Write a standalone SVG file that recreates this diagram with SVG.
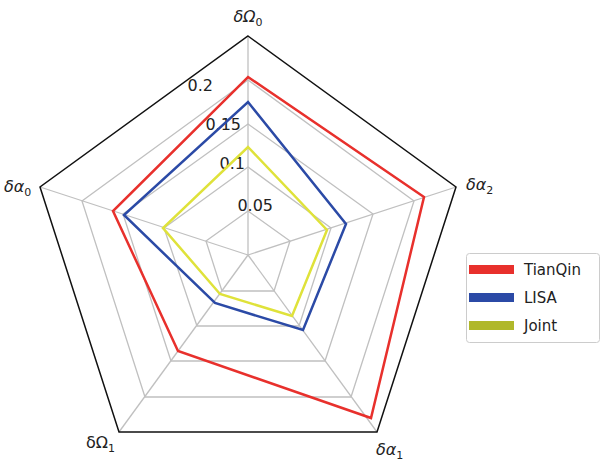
<svg xmlns="http://www.w3.org/2000/svg" width="602" height="461" viewBox="0 0 602 461">
<style>
.g{fill:none;stroke:#c0c0c0;stroke-width:1.3}
.ax{stroke:#c0c0c0;stroke-width:1.3}
.t{font-family:"DejaVu Sans",sans-serif;font-size:16px;fill:#222;font-style:italic}
.tk{font-family:"DejaVu Sans",sans-serif;font-size:16px;fill:#222}
.lg{font-family:"DejaVu Sans",sans-serif;font-size:15px;fill:#222}
.d{fill:none;stroke-width:2.5;stroke-linejoin:miter}
.s{font-style:normal;font-size:11px}
</style>
<rect width="602" height="461" fill="#fff"/>
<g id="grid">
<polygon class="g" points="248,211 290,241 274,291 222,291 206,241"/>
<polygon class="g" points="248,167 331,228 299,326 197,326 164,228"/>
<polygon class="g" points="248,124 373,214 325,361 171,361 123,214"/>
<polygon class="g" points="248,80 414,201 351,397 145,397 82,201"/>
<line class="ax" x1="248" y1="255" x2="248" y2="36"/>
<line class="ax" x1="248" y1="255" x2="456" y2="187"/>
<line class="ax" x1="248" y1="255" x2="377" y2="432"/>
<line class="ax" x1="248" y1="255" x2="119" y2="432"/>
<line class="ax" x1="248" y1="255" x2="40" y2="187"/>
<polygon fill="none" stroke="#111" stroke-width="1.5" points="248,36 456,187 377,432 119,432 40,187"/>
</g>
<g id="ticks" class="tk" text-anchor="end">
<text x="273" y="211">0.05</text>
<text x="245" y="169">0.1</text>
<text x="241" y="130">0.15</text>
<text x="213" y="91">0.2</text>
</g>
<g id="connectors">
<polygon id="joint" class="d" stroke="#dfe23a" points="248,147 327,230 292,316 220,294 163,228"/>
<polygon id="lisa" class="d" stroke="#2b4aa6" points="248,102 346,224 303,330 215,303 124,215"/>
<polygon id="tianqin" class="d" stroke="#e8302c" points="248,77 424,197 371,418 178,351 113,211"/>
</g>
<g id="labels" class="t">
<text x="248" y="22" text-anchor="middle">δΩ<tspan class="s" dy="4">0</tspan></text>
<text x="466" y="190">δα<tspan class="s" dy="4">2</tspan></text>
<text x="376" y="455">δα<tspan class="s" dy="4">1</tspan></text>
<text x="86" y="448"><tspan font-style="normal">δΩ</tspan><tspan class="s" dy="4">1</tspan></text>
<text x="4" y="192">δα<tspan class="s" dy="4">0</tspan></text>
</g>
<g id="legend">
<rect x="466.5" y="253.5" width="133" height="89" rx="3" fill="#fff" stroke="#ccc"/>
<rect x="469" y="265" width="45" height="9" fill="#e8302c"/>
<rect x="469" y="293" width="45" height="9" fill="#2b4aa6"/>
<rect x="469" y="321" width="45" height="9" fill="#b0b82a"/>
<text class="lg" x="524" y="275">TianQin</text>
<text class="lg" x="524" y="303">LISA</text>
<text class="lg" x="524" y="331">Joint</text>
</g>
</svg>
